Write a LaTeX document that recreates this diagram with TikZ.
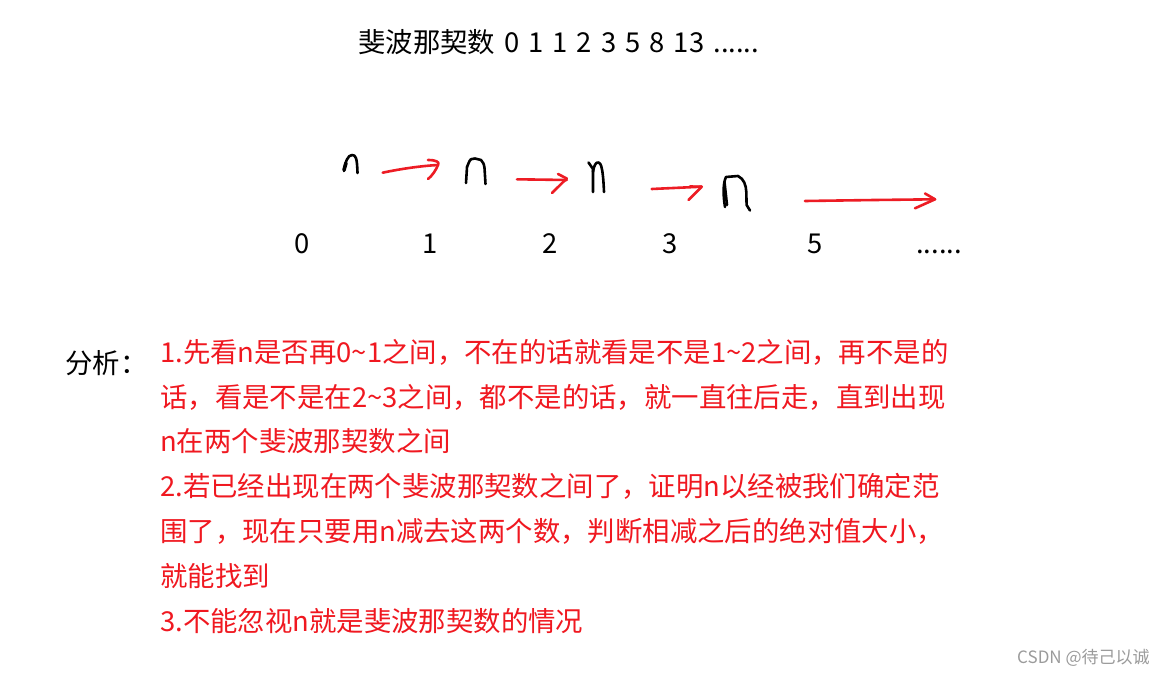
\documentclass[tikz,border=0pt]{standalone}
\usepackage{fontspec}
\newfontfamily\cjk{Noto Sans CJK SC}
\definecolor{penred}{RGB}{237,28,36}
\definecolor{txtred}{RGB}{240,24,32}
\definecolor{wmgray}{RGB}{155,155,155}
\newcommand{\tsp}{\hspace{0.33em}}
\begin{document}
\begin{tikzpicture}[x=1pt,y=-1pt,
  txt/.style={inner sep=0pt, anchor=west, font=\cjk\fontsize{27.4}{27.4}\selectfont, text height=0.88em, text depth=0.12em},
  num/.style={txt, anchor=center},
  rtxt/.style={txt, text=txtred},
  ink/.style={draw=black, line width=2.6pt, line cap=round, line join=round},
  pen/.style={draw=penred, line width=2.6pt, line cap=round, line join=round},
]
\useasboundingbox[fill=white] (0,0) rectangle (1169,676);

% title
\node[txt] (title) at (358,49) {斐波那契数\tsp 0\tsp 1\tsp 1\tsp 2\tsp 3\tsp 5\tsp 8\tsp 13\tsp ......};

% hand-drawn n's
\draw[ink] (344,171) .. controls (345,162) and (348,155) .. (352,155) .. controls (356,155) and (357,158) .. (357.5,173);
\draw[ink, line width=3.6pt] (344,170) -- (346,163);
\draw[ink] (466,183) -- (467,167) .. controls (469,162) and (470,159) .. (472,159) -- (475,158.5) -- (481,160) .. controls (483,162) and (484,164) .. (484.5,168) -- (485.5,184);
\draw[ink] (588.5,162.5) -- (593,169) -- (593,192);
\draw[ink] (593,172) .. controls (594,165) and (596,162) .. (598.5,162.5) .. controls (601,163) and (603,168) .. (604,192);
\draw[ink] (725,207) .. controls (723,195) and (723,183) .. (726,177) -- (738,176) .. controls (744,179) and (746,185) .. (746.3,192) -- (746.6,205) -- (750,210.5);
\draw[ink] (724.5,182) -- (727,205);

% hand-drawn arrows
\coordinate (a1s) at (382.7,172.7);
\coordinate (a1e) at (438,165);
\coordinate (a2s) at (517,179.3);
\coordinate (a2e) at (566.7,180);
\coordinate (a3s) at (651.7,189);
\coordinate (a3e) at (701.7,186.7);
\coordinate (a4s) at (805,201);
\coordinate (a4e) at (935,199.3);
\draw[pen] (a1s) .. controls (400,169) and (420,166) .. (a1e);
\draw[pen] (428,160) .. controls (436,160) and (440,162) .. (a1e) .. controls (436,170) and (432,176) .. (428,179);
\draw[pen] (a2s) -- (a2e);
\draw[pen] (558,174) -- (566.7,178.5) -- (552,193);
\draw[pen] (a3s) -- (a3e);
\draw[pen] (690,186.5) -- (a3e) -- (688.5,200);
\draw[pen] (a4s) -- (875,200) -- (a4e);
\draw[pen] (925,193.5) -- (a4e) -- (915,208.3);

% number row
\node[num] (l0) at (302,250) {0};
\node[num] (l1) at (430,250) {1};
\node[num] (l2) at (550,250) {2};
\node[num] (l3) at (670,250) {3};
\node[num] (l5) at (815,250) {5};
\node[num] (ldots) at (939,250) {......};

% analysis
\node[txt] (fx) at (65,370) {分析：};
\node[rtxt] (r1) at (160,359) {1.先看n是否再0\textasciitilde1之间，不在的话就看是不是1\textasciitilde2之间，再不是的};
\node[rtxt] (r2) at (160,403.5) {话，看是不是在2\textasciitilde3之间，都不是的话，就一直往后走，直到出现};
\node[rtxt] (r3) at (160,448) {n在两个斐波那契数之间};
\node[rtxt] (r4) at (160,493) {2.若已经出现在两个斐波那契数之间了，证明n以经被我们确定范};
\node[rtxt] (r5) at (160,538) {围了，现在只要用n减去这两个数，判断相减之后的绝对值大小，};
\node[rtxt] (r6) at (160,583) {就能找到};
\node[rtxt] (r7) at (160,628) {3.不能忽视n就是斐波那契数的情况};

% watermark
\node[anchor=west, inner sep=0pt, font=\cjk\fontsize{17}{17}\selectfont, text=wmgray, text height=0.88em, text depth=0.12em] (wm) at (1017,660) {CSDN @待己以诚};
\end{tikzpicture}
\end{document}
